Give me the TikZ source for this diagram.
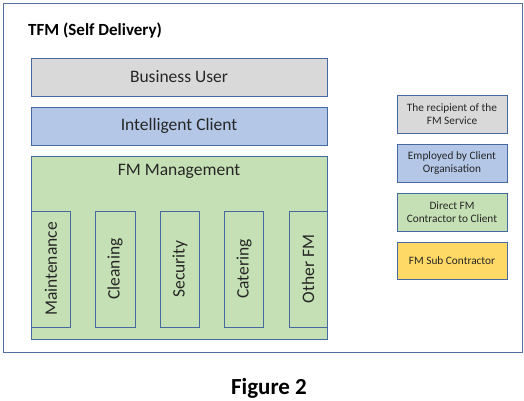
\documentclass[tikz,border=0pt]{standalone}
\usepackage{fontspec}
\setmainfont{Carlito}
\definecolor{frameblue}{RGB}{84,110,160}
\definecolor{boxline}{RGB}{70,106,160}
\definecolor{fillgray}{RGB}{217,217,217}
\definecolor{fillblue}{RGB}{180,199,231}
\definecolor{fillgreen}{RGB}{197,224,180}
\definecolor{fillyellow}{RGB}{255,217,102}
\begin{document}
\begin{tikzpicture}[x=1pt,y=-1pt,
  boxstyle/.style={draw=boxline, line width=0.9pt},
  bigtext/.style={font=\fontsize{17.5}{20}\selectfont, text=black!85},
  legtext/.style={font=\fontsize{11.3}{13.5}\selectfont, align=center, text=black!85}]
\useasboundingbox (0,0) rectangle (524,400);
\draw[frameblue, line width=1pt] (3,3) rectangle (522,352);
\node[anchor=west, inner sep=0pt, font=\bfseries\fontsize{17}{19}\selectfont] (title) at (28,31) {TFM (Self Delivery)};
% main boxes
\draw[boxstyle, fill=fillgray] (31,58) rectangle (327,96);
\node[bigtext] (bu) at (179,77) {Business User};
\draw[boxstyle, fill=fillblue] (31,107) rectangle (327,145);
\node[bigtext] (ic) at (179,126) {Intelligent Client};
\draw[boxstyle, fill=fillgreen] (31,156) rectangle (327,339);
\node[bigtext] (fm) at (179,171) {FM Management};
% service boxes
\draw[boxstyle, fill=fillgreen] (31,211) rectangle (70,327);
\node[bigtext, rotate=90] (s1) at (51,269) {Maintenance};
\draw[boxstyle, fill=fillgreen] (95,211) rectangle (135,327);
\node[bigtext, rotate=90] (s2) at (115,269) {Cleaning};
\draw[boxstyle, fill=fillgreen] (160,211) rectangle (199,327);
\node[bigtext, rotate=90] (s3) at (180,269) {Security};
\draw[boxstyle, fill=fillgreen] (224,211) rectangle (263,327);
\node[bigtext, rotate=90] (s4) at (244,269) {Catering};
\draw[boxstyle, fill=fillgreen] (289,211) rectangle (327,327);
\node[bigtext, rotate=90] (s5) at (308,269) {Other FM};
% legend
\draw[boxstyle, fill=fillgray] (397,95) rectangle (507,133);
\node[legtext] (l1) at (452,114) {The recipient of the\\FM Service};
\draw[boxstyle, fill=fillblue] (397,144) rectangle (507,182);
\node[legtext] (l2) at (452,163) {Employed by Client\\Organisation};
\draw[boxstyle, fill=fillgreen] (397,193) rectangle (507,231);
\node[legtext] (l3) at (452,212) {Direct FM\\Contractor to Client};
\draw[boxstyle, fill=fillyellow] (397,242) rectangle (507,279);
\node[legtext] (l4) at (452,261) {FM Sub Contractor};
% caption
\node[font=\bfseries\fontsize{23}{26}\selectfont] (cap) at (269,388) {Figure 2};
\end{tikzpicture}
\end{document}
